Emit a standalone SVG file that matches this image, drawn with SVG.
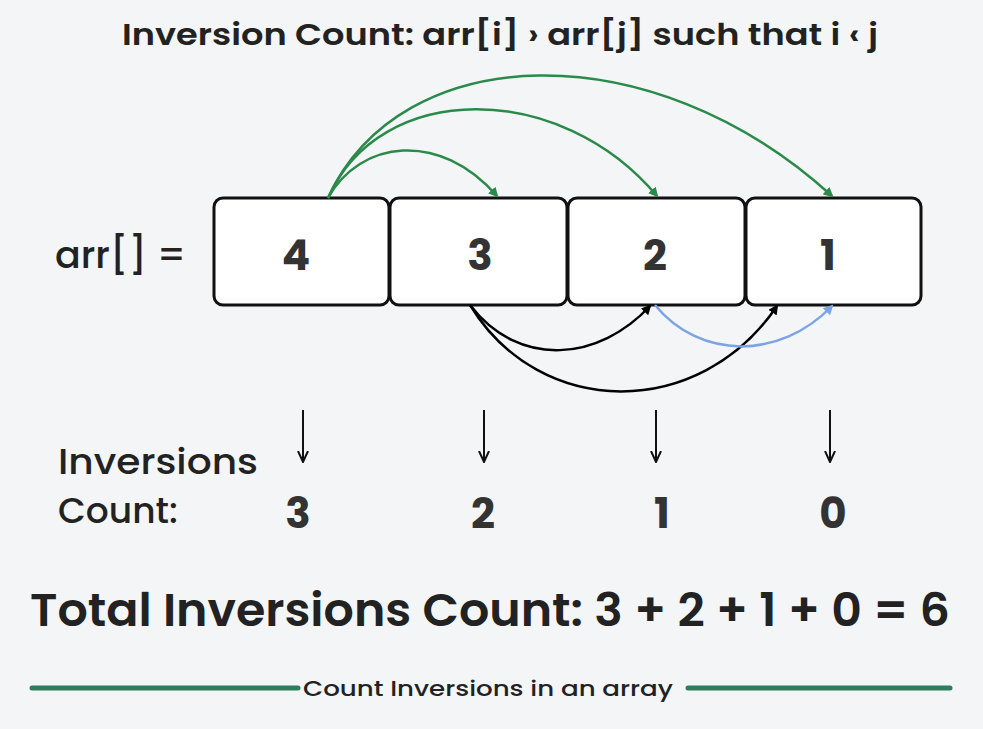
<svg xmlns="http://www.w3.org/2000/svg" width="983" height="729" viewBox="0 0 983 729">
<style>
text{font-family:"Poppins","Open Sans","Liberation Sans",sans-serif;fill:#222}
.box{fill:#fff;stroke:#111;stroke-width:3}
.num{font-size:42px;font-weight:bold;text-anchor:middle;fill:#333}
.g{fill:none;stroke:#2b8a4a;stroke-width:2.5}
.k{fill:none;stroke:#000;stroke-width:2.5}
.b{fill:none;stroke:#7ba3e6;stroke-width:2.5}
.dn{stroke:#111;stroke-width:2}
</style>
<defs>
<marker id="mg" markerWidth="10" markerHeight="10" refX="8" refY="5" orient="auto" markerUnits="userSpaceOnUse"><path d="M0,0L10,5L0,10z" fill="#2b8a4a"/></marker>
<marker id="mk" markerWidth="10" markerHeight="10" refX="8" refY="5" orient="auto" markerUnits="userSpaceOnUse"><path d="M0,0L10,5L0,10z" fill="#000"/></marker>
<marker id="mb" markerWidth="10" markerHeight="10" refX="8" refY="5" orient="auto" markerUnits="userSpaceOnUse"><path d="M0,0L10,5L0,10z" fill="#7ba3e6"/></marker>
<marker id="md" markerWidth="12" markerHeight="12" refX="10" refY="6" orient="auto" markerUnits="userSpaceOnUse"><path d="M0,1L11,6L0,11" fill="none" stroke="#111" stroke-width="2"/></marker>
</defs>
<rect width="983" height="729" fill="#f3f5f7"/>
<text x="122" y="45" font-size="30" font-weight="600" textLength="756" lengthAdjust="spacingAndGlyphs">Inversion Count: arr[i] › arr[j] such that i ‹ j</text>
<text x="55" y="268" font-size="38" font-weight="500">arr[] =</text>
<g id="n4"><rect class="box" x="214" y="198" width="175" height="107" rx="9"/><text class="num" x="296" y="270">4</text></g>
<g id="n3"><rect class="box" x="390" y="198" width="177" height="107" rx="9"/><text class="num" x="480" y="270">3</text></g>
<g id="n2"><rect class="box" x="568" y="198" width="177" height="107" rx="9"/><text class="num" x="655" y="270">2</text></g>
<g id="n1"><rect class="box" x="746" y="198" width="175" height="107" rx="9"/><text class="num" x="828" y="270">1</text></g>
<g id="connectors">
<path class="g" d="M328,198 C360,140 440,130 497,196" marker-end="url(#mg)"/>
<path class="g" d="M328,198 C380,80 560,80 657,196" marker-end="url(#mg)"/>
<path class="g" d="M328,198 C400,40 650,30 832,196" marker-end="url(#mg)"/>
<path class="k" d="M470,305 C520,370 600,360 650,306" marker-end="url(#mk)"/>
<path class="k" d="M470,305 C540,420 700,420 777,306" marker-end="url(#mk)"/>
<path class="b" d="M655,305 C700,360 780,360 832,306" marker-end="url(#mb)"/>
<line class="dn" x1="303" y1="410" x2="303" y2="461" marker-end="url(#md)"/>
<line class="dn" x1="484" y1="410" x2="484" y2="461" marker-end="url(#md)"/>
<line class="dn" x1="656" y1="410" x2="656" y2="461" marker-end="url(#md)"/>
<line class="dn" x1="830" y1="410" x2="830" y2="461" marker-end="url(#md)"/>
</g>
<text x="58" y="474" font-size="36" font-weight="500" textLength="200" lengthAdjust="spacingAndGlyphs">Inversions</text>
<text x="58" y="523" font-size="36" font-weight="500">Count:</text>
<g><text class="num" x="298" y="528">3</text><text class="num" x="483" y="528">2</text><text class="num" x="662" y="528">1</text><text class="num" x="833" y="528">0</text></g>
<text x="30" y="626" font-size="46" font-weight="600" fill="#333" textLength="920" lengthAdjust="spacingAndGlyphs">Total Inversions Count: 3 + 2 + 1 + 0 = 6</text>
<line x1="32" y1="688" x2="298" y2="688" stroke="#2e7d5f" stroke-width="5" stroke-linecap="round"/>
<line x1="688" y1="688" x2="950" y2="688" stroke="#2e7d5f" stroke-width="5" stroke-linecap="round"/>
<text x="303" y="696" font-size="22" font-weight="500" fill="#000" textLength="370" lengthAdjust="spacingAndGlyphs">Count Inversions in an array</text>
</svg>
